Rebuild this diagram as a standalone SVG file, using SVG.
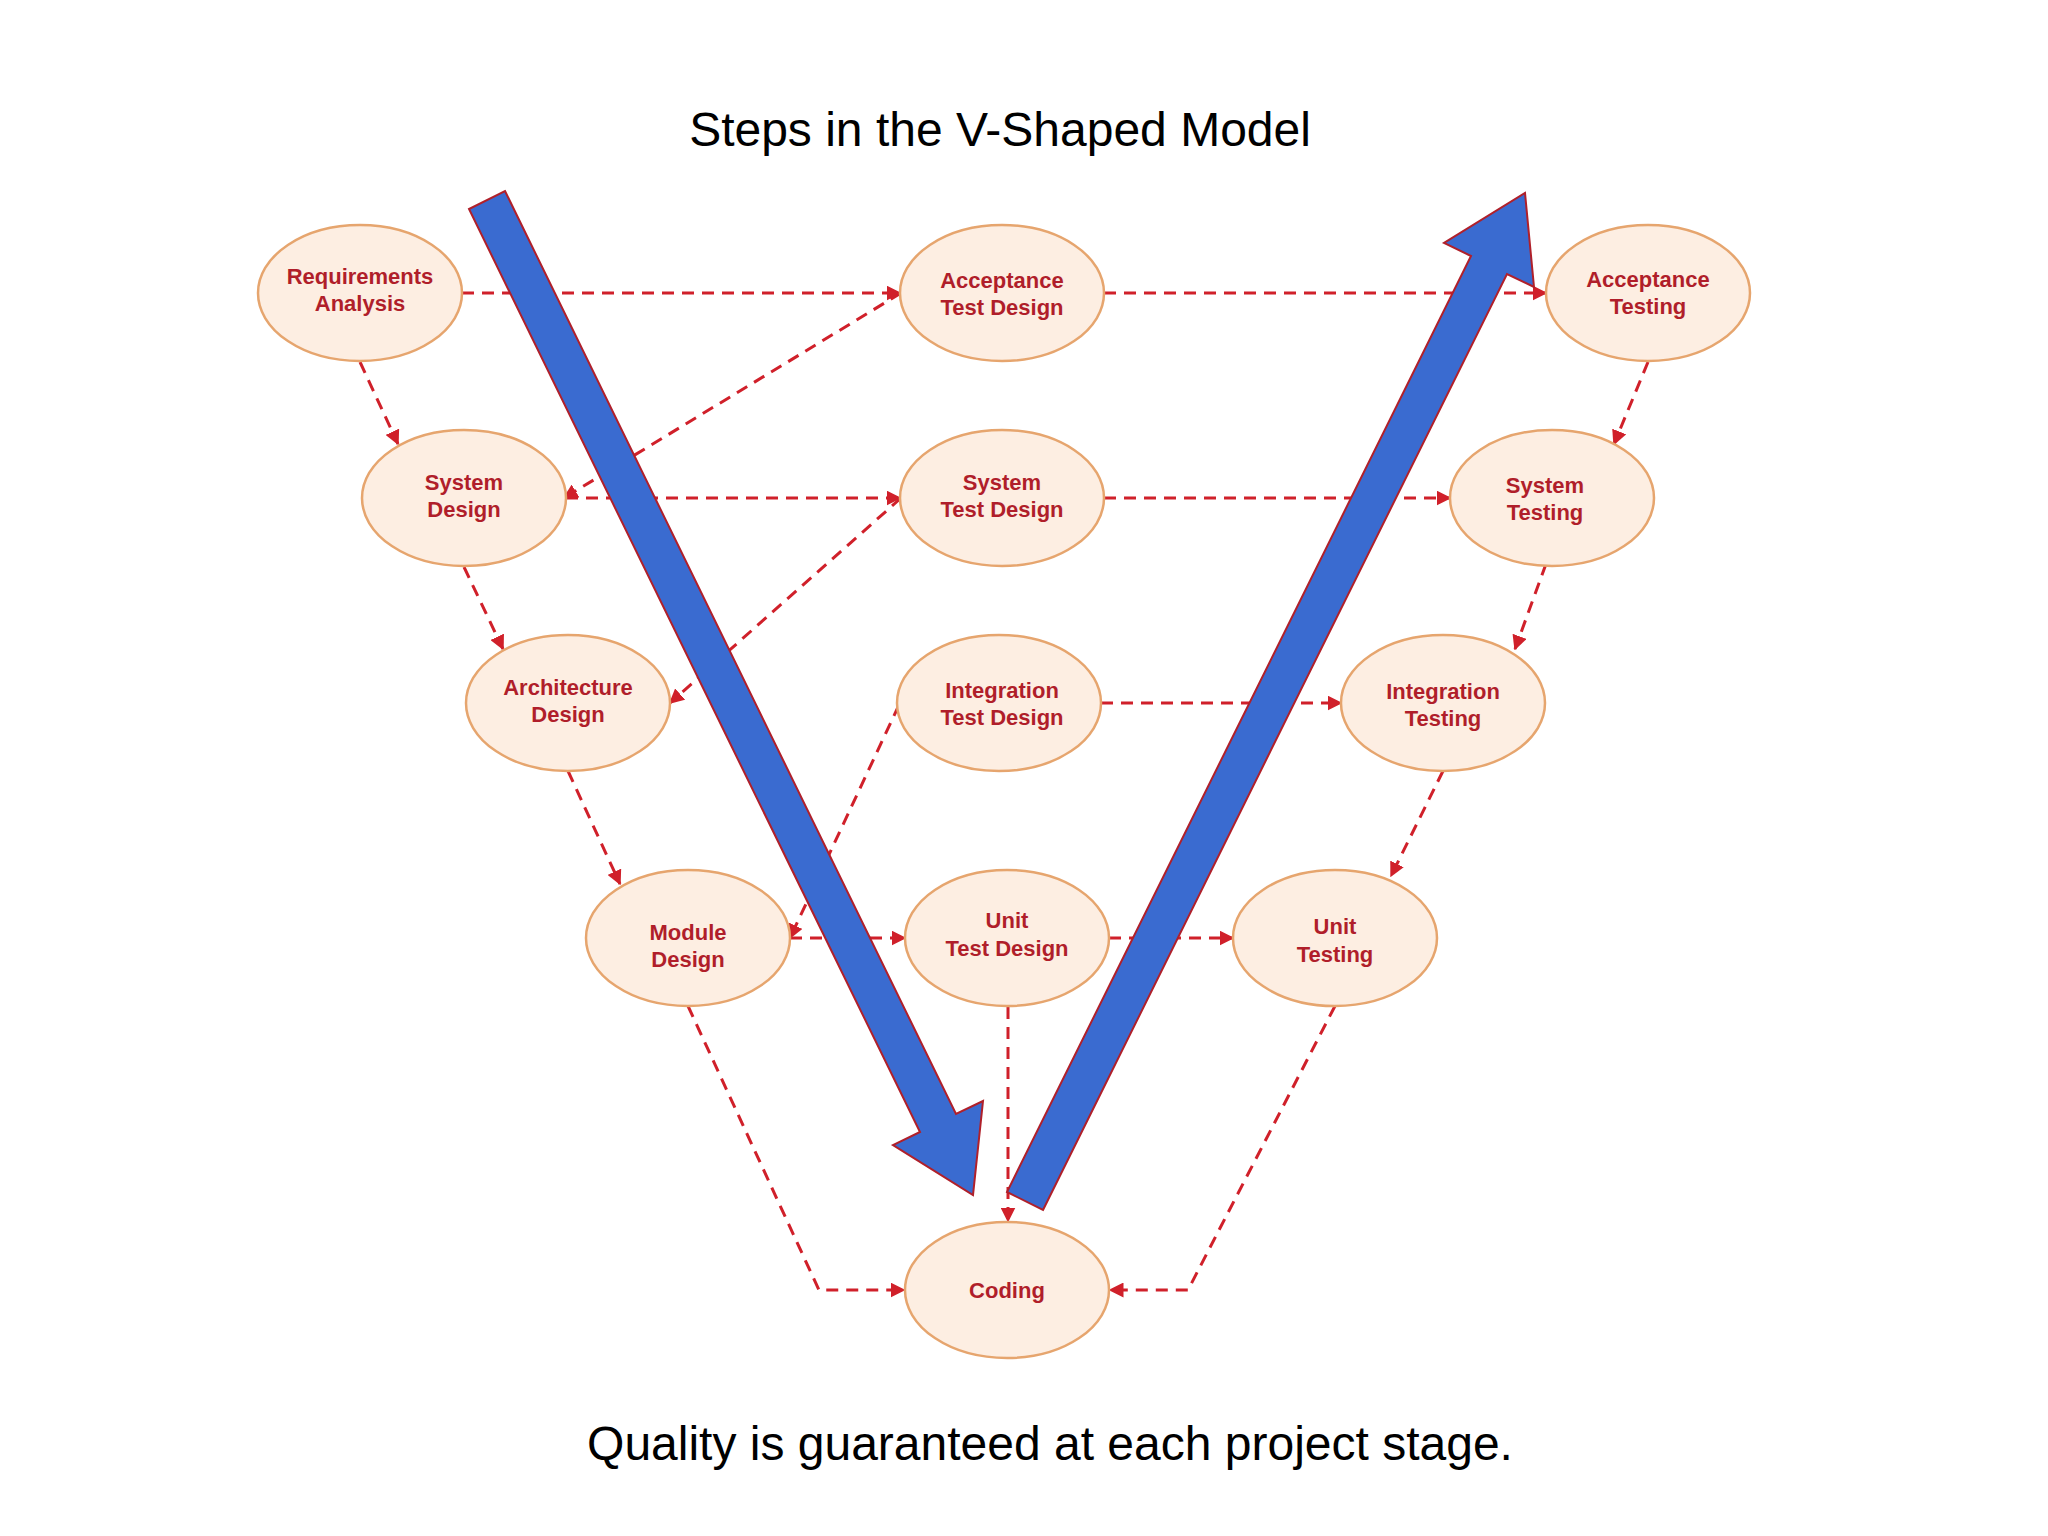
<svg xmlns="http://www.w3.org/2000/svg" width="2048" height="1536" viewBox="0 0 2048 1536">
<defs>
<style>
.n ellipse{fill:#fdeee2;stroke:#e6a56e;stroke-width:2.5}
.n text{font-family:"Liberation Sans",Arial,sans-serif;font-weight:bold;font-size:22px;fill:#b01e2a;text-anchor:middle}
.c path{fill:none;stroke:#d0202a;stroke-width:3;stroke-dasharray:12,8;marker-end:url(#ah)}
.big{fill:#3a6bd0;stroke:#b0202a;stroke-width:2}
.t{font-family:"Liberation Sans",Arial,sans-serif;font-size:48px;fill:#000;text-anchor:middle}
</style>
<marker id="ah" viewBox="0 0 10 10" refX="9" refY="5" markerWidth="5" markerHeight="5" orient="auto" markerUnits="strokeWidth"><path d="M0,0L10,5L0,10z" fill="#d0202a"/></marker>
</defs>
<rect width="2048" height="1536" fill="#fff"/>
<text class="t" x="1000" y="146">Steps in the V-Shaped Model</text>
<text class="t" x="1050" y="1460">Quality is guaranteed at each project stage.</text>
<g class="c">
<path d="M462,293H900"/>
<path d="M1104,293H1546"/>
<path d="M1648,362L1614,444"/>
<path d="M901,293L564,498"/>
<path d="M566,498H900"/>
<path d="M1104,498H1450"/>
<path d="M901,498L670,703"/>
<path d="M360,362L398,444"/>
<path d="M464,567L503,649"/>
<path d="M1546,564L1515,649"/>
<path d="M1101,703H1341"/>
<path d="M899,705L790,938"/>
<path d="M568,771L620,884"/>
<path d="M1443,771L1391,876"/>
<path d="M790,938H905"/>
<path d="M1109,938H1233"/>
<path d="M1008,1007V1221"/>
<path d="M688,1006L819,1290H904"/>
<path d="M1335,1006L1188,1290H1110"/>
</g>
<g id="n-req" class="n"><ellipse cx="360" cy="293" rx="102" ry="68"/><text x="360" y="284">Requirements</text><text x="360" y="311">Analysis</text></g>
<g id="n-sysd" class="n"><ellipse cx="464" cy="498" rx="102" ry="68"/><text x="464" y="490">System</text><text x="464" y="517">Design</text></g>
<g id="n-arch" class="n"><ellipse cx="568" cy="703" rx="102" ry="68"/><text x="568" y="695">Architecture</text><text x="568" y="722">Design</text></g>
<g id="n-mod" class="n"><ellipse cx="688" cy="938" rx="102" ry="68"/><text x="688" y="940">Module</text><text x="688" y="967">Design</text></g>
<g id="n-cod" class="n"><ellipse cx="1007" cy="1290" rx="102" ry="68"/><text x="1007" y="1298">Coding</text></g>
<g id="n-atd" class="n"><ellipse cx="1002" cy="293" rx="102" ry="68"/><text x="1002" y="288">Acceptance</text><text x="1002" y="315">Test Design</text></g>
<g id="n-std" class="n"><ellipse cx="1002" cy="498" rx="102" ry="68"/><text x="1002" y="490">System</text><text x="1002" y="517">Test Design</text></g>
<g id="n-itd" class="n"><ellipse cx="999" cy="703" rx="102" ry="68"/><text x="1002" y="698">Integration</text><text x="1002" y="725">Test Design</text></g>
<g id="n-utd" class="n"><ellipse cx="1007" cy="938" rx="102" ry="68"/><text x="1007" y="928">Unit</text><text x="1007" y="956">Test Design</text></g>
<g id="n-at" class="n"><ellipse cx="1648" cy="293" rx="102" ry="68"/><text x="1648" y="287">Acceptance</text><text x="1648" y="314">Testing</text></g>
<g id="n-st" class="n"><ellipse cx="1552" cy="498" rx="102" ry="68"/><text x="1545" y="493">System</text><text x="1545" y="520">Testing</text></g>
<g id="n-it" class="n"><ellipse cx="1443" cy="703" rx="102" ry="68"/><text x="1443" y="699">Integration</text><text x="1443" y="726">Testing</text></g>
<g id="n-ut" class="n"><ellipse cx="1335" cy="938" rx="102" ry="68"/><text x="1335" y="934">Unit</text><text x="1335" y="962">Testing</text></g>
<polygon class="big" points="505,191 956,1114 983,1101 973,1195 893,1145 920,1132 469,209"/>
<polygon class="big" points="1043,1210 1507,274 1534,287 1525,193 1444,243 1471,256 1007,1192"/>
</svg>
